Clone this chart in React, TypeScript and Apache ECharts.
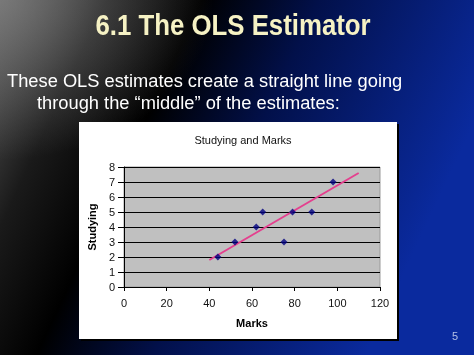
import React, { useEffect, useRef } from "react";
import * as echarts from "echarts";

const marks = [44, 52, 62, 65, 75, 79, 88, 98];
const studying = [2, 3, 4, 5, 3, 5, 5, 7];
const fitX = [40, 110];
const fitY = [1.8, 7.6];
const slideTitle = "6.1 The OLS Estimator";
const bodyLines = [
  "These OLS estimates create a straight line going",
  "through the \u201cmiddle\u201d of the estimates:",
];
const chartTitle = "Studying and Marks";
const xName = "Marks";
const yName = "Studying";
const slideNumber = "5";

export default function App() {
  const ref = useRef<HTMLDivElement>(null);
  useEffect(() => {
    if (!ref.current) return;
    const chart = echarts.init(ref.current, null, { renderer: "svg" });
    const pts = marks.map((m, i) => [m, studying[i]]);
    const fit = fitX.map((x, i) => [x, fitY[i]]);
    chart.setOption({
      animation: false,
      backgroundColor: "transparent",
      title: {
        text: chartTitle,
        left: 238,
        top: 129,
        textAlign: "center",
        textStyle: { fontFamily: "Liberation Sans", fontSize: 11, fontWeight: "normal", color: "#111" },
      },
      graphic: [
        {
          type: "rect",
          z: -10,
          shape: { x: 0, y: 0, width: 474, height: 355 },
          style: {
            fill: new echarts.graphic.LinearGradient(0, 0, 1, 0.35, [
              { offset: 0, color: "#5c5c5c" },
              { offset: 0.2, color: "#1a1a1a" },
              { offset: 0.38, color: "#000000" },
              { offset: 0.6, color: "#02104a" },
              { offset: 1, color: "#0a2a9e" },
            ]),
          },
        },
        {
          type: "rect",
          z: -9,
          shape: { x: 0, y: 0, width: 474, height: 355 },
          style: {
            fill: new echarts.graphic.RadialGradient(0, 0, 0.45, [
              { offset: 0, color: "rgba(140,140,140,0.6)" },
              { offset: 1, color: "rgba(140,140,140,0)" },
            ]),
          },
        },
        {
          type: "rect",
          z: -8,
          shape: { x: 81, y: 124, width: 318, height: 217 },
          style: { fill: "#000" },
        },
        {
          type: "rect",
          z: -7,
          shape: { x: 79, y: 122, width: 318, height: 217 },
          style: { fill: "#ffffff" },
        },
        {
          type: "text",
          x: 233,
          y: 25,
          scaleX: 0.89,
          style: {
            text: slideTitle,
            fontFamily: "Liberation Sans",
            fontWeight: "bold",
            fontSize: 29,
            fill: "#f6f2c4",
            align: "center",
            verticalAlign: "middle",
          },
        },
        {
          type: "text",
          x: 7,
          y: 80,
          style: {
            text: bodyLines[0],
            fontFamily: "Liberation Sans",
            fontSize: 18.3,
            fill: "#ffffff",
            align: "left",
            verticalAlign: "middle",
          },
        },
        {
          type: "text",
          x: 37,
          y: 102,
          style: {
            text: bodyLines[1],
            fontFamily: "Liberation Sans",
            fontSize: 18.3,
            fill: "#ffffff",
            align: "left",
            verticalAlign: "middle",
          },
        },
        {
          type: "text",
          x: 455,
          y: 336,
          style: {
            text: slideNumber,
            fontFamily: "Liberation Sans",
            fontSize: 11,
            fill: "#b4c0e6",
            align: "center",
            verticalAlign: "middle",
          },
        },
      ],
      grid: {
        left: 124,
        top: 167,
        width: 256,
        height: 120,
        show: true,
        backgroundColor: "#c0c0c0",
        borderColor: "#9a9a9a",
        borderWidth: 1,
      },
      xAxis: {
        type: "value",
        min: 0,
        max: 120,
        interval: 20,
        name: xName,
        nameLocation: "middle",
        nameGap: 30,
        nameTextStyle: { fontFamily: "Liberation Sans", fontSize: 11, fontWeight: "bold", color: "#000" },
        axisLine: { show: true, onZero: false, lineStyle: { color: "#000", width: 1 } },
        axisTick: { show: true, inside: false, length: 4, lineStyle: { color: "#000" } },
        axisLabel: { fontFamily: "Liberation Sans", fontSize: 11, color: "#111", margin: 10 },
        splitLine: { show: false },
      },
      yAxis: {
        type: "value",
        min: 0,
        max: 8,
        interval: 1,
        name: yName,
        nameLocation: "middle",
        nameGap: 10,
        nameRotate: 90,
        nameTextStyle: { fontFamily: "Liberation Sans", fontSize: 11, fontWeight: "bold", color: "#000" },
        axisLine: { show: true, lineStyle: { color: "#000", width: 1 } },
        axisTick: { show: true, inside: false, length: 6, lineStyle: { color: "#000" } },
        axisLabel: { fontFamily: "Liberation Sans", fontSize: 11, color: "#111", margin: 9 },
        splitLine: { show: true, lineStyle: { color: "#000", width: 1 } },
      },
      series: [
        {
          type: "line",
          data: fit,
          symbol: "none",
          lineStyle: { color: "#e4408e", width: 2 },
          z: 2,
        },
        {
          type: "scatter",
          data: pts,
          symbol: "diamond",
          symbolSize: 7,
          itemStyle: { color: "#000080" },
          z: 3,
        },
      ],
    });
    return () => chart.dispose();
  }, []);
  return (
    <div
      ref={ref}
      style={{ position: "fixed", left: 0, top: 0, width: 474, height: 355 }}
    />
  );
}
